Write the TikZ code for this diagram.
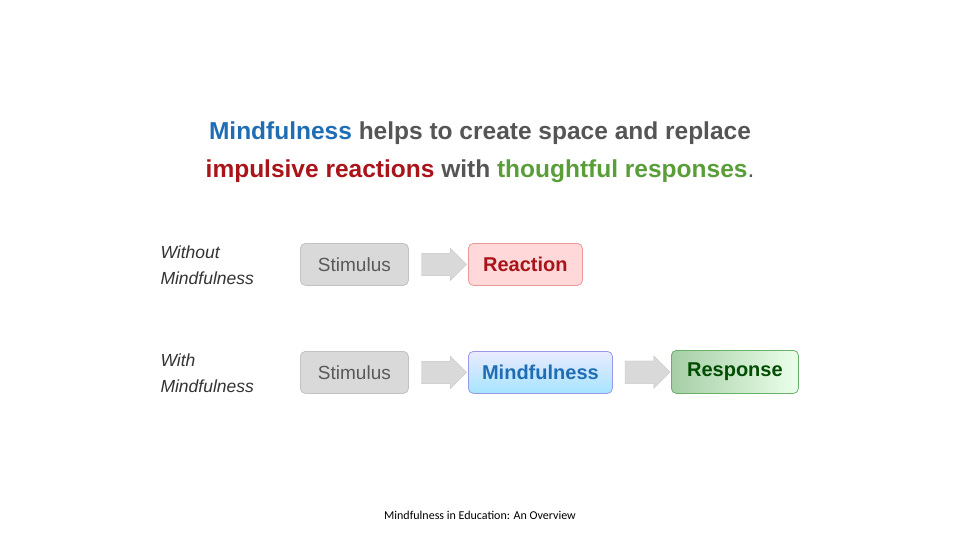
\documentclass[tikz,border=0pt]{standalone}
\usepackage{fontspec}
\setmainfont{Liberation Sans}
\newfontfamily\footfont{Carlito}
\usetikzlibrary{shapes.arrows,calc}
\definecolor{tblue}{HTML}{1F6DB5}
\definecolor{tred}{HTML}{A8141A}
\definecolor{tgreen}{HTML}{5A9E3A}
\definecolor{tgray}{HTML}{555555}
\begin{document}
\begin{tikzpicture}[x=1pt,y=-1pt,
  box/.style={rounded corners=5pt,draw=#1!80!black!40,line width=0.8pt,anchor=north west,font=\fontsize{20}{22}\selectfont\bfseries},
  arr/.style={single arrow,fill=black!15,draw=black!22,minimum height=45pt,minimum width=32pt,single arrow head extend=5pt,inner xsep=0pt,inner ysep=11pt,shape border rotate=0},
  lab/.style={anchor=north west,align=left,font=\fontsize{17.5}{26}\selectfont\itshape,text=black!80}]
\useasboundingbox (0,0) rectangle (960,540);
\fill[white] (0,0) rectangle (960,540);
\node (t1) at (480,133) {\fontsize{24.5}{28}\selectfont\bfseries\textcolor{tblue}{Mindfulness} \textcolor{tgray}{helps to create space and replace}};
\node (t2) at (480,171) {\fontsize{24.5}{28}\selectfont\bfseries\textcolor{tred}{impulsive reactions} \textcolor{tgray}{with} \textcolor{tgreen}{thoughtful responses}\textcolor{tgray}{\mdseries.}};
\node[lab] (l1) at (157,242) {Without\\Mindfulness};
\node[lab] (l2) at (157,350) {With\\Mindfulness};
\node[box=gray,fill=black!15,minimum width=108pt,minimum height=42pt,text=black!65,font=\fontsize{19}{22}\selectfont] (s1) at (300,243) {Stimulus};
\node[box=red,fill=red!15,minimum width=114pt,minimum height=42pt,text=tred] (r) at (468,243) {Reaction};
\node[box=gray,fill=black!15,minimum width=108pt,minimum height=42pt,text=black!65,font=\fontsize{19}{22}\selectfont] (s2) at (300,351) {Stimulus};
\node[box=blue,top color=blue!8,bottom color=blue!30!cyan!35,minimum width=144pt,minimum height=42pt,text=tblue] (m) at (468,351) {Mindfulness};
\node[box=green,left color=green!45!black!35,right color=green!8,draw=green!50!black!60,minimum width=127pt,minimum height=43pt,text=green!30!black] (rs) at (671,350) {Response};
\node[arr] (a1) at ($(s1.east)!0.5!(r.west)$) {};
\node[arr] (a2) at ($(s2.east)!0.5!(m.west)$) {};
\node[arr] (a3) at ($(m.east)!0.5!(rs.west)$) {};
\node (f) at (480,515) {\footfont\fontsize{12}{14}\selectfont Mindfulness in Education: An Overview};
\end{tikzpicture}
\end{document}
